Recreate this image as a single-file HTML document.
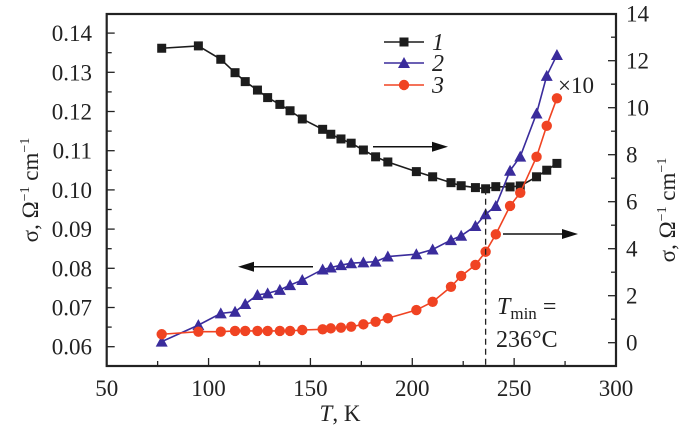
<!DOCTYPE html>
<html><head><meta charset="utf-8"><style>
html,body{margin:0;padding:0;background:#fff;}
svg{display:block;font-family:"Liberation Serif",serif;}
</style></head><body>
<svg id="chart" width="685" height="435" viewBox="0 0 685 435">
<g id="axes"></g><g id="series"></g>
<g id="ann"></g>
</svg>
<script>
const temps=[77,95,106,113,118,124,129,135,140,146,156,160,165,170,176,182,188,202,210,219,224,231,236,241,248,253,261,266,271];
const sigma1=[12.53,12.63,12.06,11.49,11.11,10.75,10.43,10.14,9.87,9.52,9.08,8.87,8.67,8.49,8.2,7.91,7.69,7.28,7.06,6.81,6.68,6.6,6.55,6.64,6.63,6.67,7.06,7.34,7.63];
const sigma2=[0.0613,0.0655,0.0685,0.0689,0.0709,0.0732,0.0736,0.0745,0.0757,0.077,0.0797,0.0802,0.0808,0.0813,0.0815,0.0817,0.083,0.0836,0.0848,0.0872,0.0883,0.0908,0.0938,0.0959,0.1049,0.1085,0.1195,0.1291,0.1344];
const sigma3=[0.36,0.47,0.47,0.5,0.5,0.5,0.5,0.5,0.5,0.54,0.57,0.61,0.64,0.68,0.78,0.89,1.04,1.39,1.74,2.38,2.84,3.31,3.87,4.61,5.82,6.38,7.91,9.23,10.4];
const xTicks=[50,100,150,200,250,300];
const leftTicks=["0.06","0.07","0.08","0.09","0.10","0.11","0.12","0.13","0.14"];
const rightTicks=[0,2,4,6,8,10,12,14];
const tMin=236;

const L=106.7,R=616,T=14,B=366;
const X=t=>L+(t-50)*(R-L)/250;
const YL=v=>346.7-(v-0.06)*3920;
const YR=v=>342.7-v*23.5;
const NS="http://www.w3.org/2000/svg";
function mk(tag,attrs,parent,text){const e=document.createElementNS(NS,tag);for(const k in attrs)e.setAttribute(k,attrs[k]);if(text!==undefined)e.textContent=text;parent.appendChild(e);return e;}
const ax=document.getElementById('axes'),se=document.getElementById('series'),an=document.getElementById('ann');

let f=mk('rect',{x:L,y:T,width:R-L,height:B-T,fill:'none',stroke:'#222','stroke-width':2.2},ax);


// x ticks
for(let t=50;t<=300;t+=25){const maj=t%50===0;let l=mk('line',{x1:X(t),x2:X(t),y1:B,y2:B-(maj?8:5),stroke:'#222','stroke-width':1.3},ax);

}
xTicks.forEach(t=>{let e=mk('text',{x:X(t),y:396,'text-anchor':'middle','font-size':23,fill:'#222'},ax,String(t));

});
// left ticks
for(let i=0;i<=17;i++){const v=0.06+i*0.005;const y=YL(v);if(y<T)continue;const maj=i%2===0;let l=mk('line',{x1:L,x2:L+(maj?8:5),y1:y,y2:y,stroke:'#222','stroke-width':1.3},ax);

}
leftTicks.forEach(s=>{let e=mk('text',{x:92,y:YL(parseFloat(s))+8,'text-anchor':'end','font-size':23,fill:'#222'},ax,s);

});
// right ticks
for(let v=0;v<=14;v++){const maj=v%2===0;let l=mk('line',{x1:R,x2:R-(maj?8:5),y1:YR(v),y2:YR(v),stroke:'#222','stroke-width':1.3},ax);

}
rightTicks.forEach(v=>{let e=mk('text',{x:626,y:YR(v)+8,'text-anchor':'start','font-size':23,fill:'#222'},ax,String(v));

});
// axis titles
let xt=mk('text',{x:340,y:421,'text-anchor':'middle','font-size':23,fill:'#222'},ax);


xt.innerHTML='<tspan font-style="italic">T</tspan>, K';
let yl=mk('text',{transform:'translate(38,190) rotate(-90)','text-anchor':'middle','font-size':23,fill:'#222'},ax);


yl.innerHTML='σ, Ω<tspan dy="-9" font-size="14">−1</tspan><tspan dy="9"> cm</tspan><tspan dy="-9" font-size="14">−1</tspan>';
let yr=mk('text',{transform:'translate(675,210) rotate(-90)','text-anchor':'middle','font-size':23,fill:'#222'},ax);


yr.innerHTML='σ, Ω<tspan dy="-9" font-size="14">−1</tspan><tspan dy="9"> cm</tspan><tspan dy="-9" font-size="14">−1</tspan>';

// dashed line
let dl=mk('line',{x1:X(tMin),x2:X(tMin),y1:YR(6.55),y2:B,stroke:'#222','stroke-width':1.3,'stroke-dasharray':'6,4'},an);



function marker(kind,x,y,color,g){let e;
 if(kind==='sq')e=mk('rect',{x:x-4.5,y:y-4.5,width:9,height:9,fill:color},g);
 else if(kind==='tri')e=mk('polygon',{points:`${x},${y-6} ${x-6},${y+5} ${x+6},${y+5}`,fill:color},g);
 else e=mk('circle',{cx:x,cy:y,r:5.2,fill:color},g);
 return e;}
function series(vals,yf,color,kind,name){
 const g=mk('g',{},se);
 
 
 const pts=vals.map((v,i)=>X(temps[i])+','+yf(v)).join(' ');
 mk('polyline',{points:pts,fill:'none',stroke:color,'stroke-width':1.6},g);
 vals.forEach((v,i)=>{const m=marker(kind,X(temps[i]),yf(v),color,g);
 
 });
}
series(sigma1,YR,'#1c1c1c','sq','series-1');
series(sigma2,YL,'#3a2c9c','tri','series-2');
series(sigma3,YR,'#f04322','circ','series-3');

// legend
const leg=[['1','#1c1c1c','sq',42],['2','#3a2c9c','tri',63],['3','#f04322','circ',85]];
leg.forEach(([lab,c,k,y])=>{const g=mk('g',{},an);
 
 
 mk('line',{x1:384,x2:424,y1:y,y2:y,stroke:c,'stroke-width':1.6},g);
 marker(k,404,y,c,g);
 mk('text',{x:432,y:y+8,'font-size':24,'font-style':'italic',fill:'#222'},g,lab);});

// arrows
function arrow(x1,x2,y,name){const g=mk('g',{},an);
 
 
 const d=x2>x1?1:-1;
 mk('line',{x1:x1,x2:x2-d*12,y1:y,y2:y,stroke:'#111','stroke-width':1.5},g);
 mk('polygon',{points:`${x2},${y} ${x2-d*16},${y-5} ${x2-d*16},${y+5}`,fill:'#111'},g);}
arrow(373,448,146.7,'arrow-series-1-right');
arrow(313,238,266.7,'arrow-series-2-left');
arrow(503,578,234,'arrow-series-3-right');

let x10=mk('text',{x:558,y:93,'font-size':23,fill:'#222'},an,'×10');


let tm=mk('text',{x:497,y:314,'font-size':24,fill:'#222'},an);


tm.innerHTML='<tspan font-style="italic">T</tspan><tspan font-size="17" dy="5">min</tspan><tspan dy="-5"> =</tspan>';
let tv=mk('text',{x:496,y:347,'font-size':24,fill:'#222'},an,'236°C');


</script>
</body></html>
